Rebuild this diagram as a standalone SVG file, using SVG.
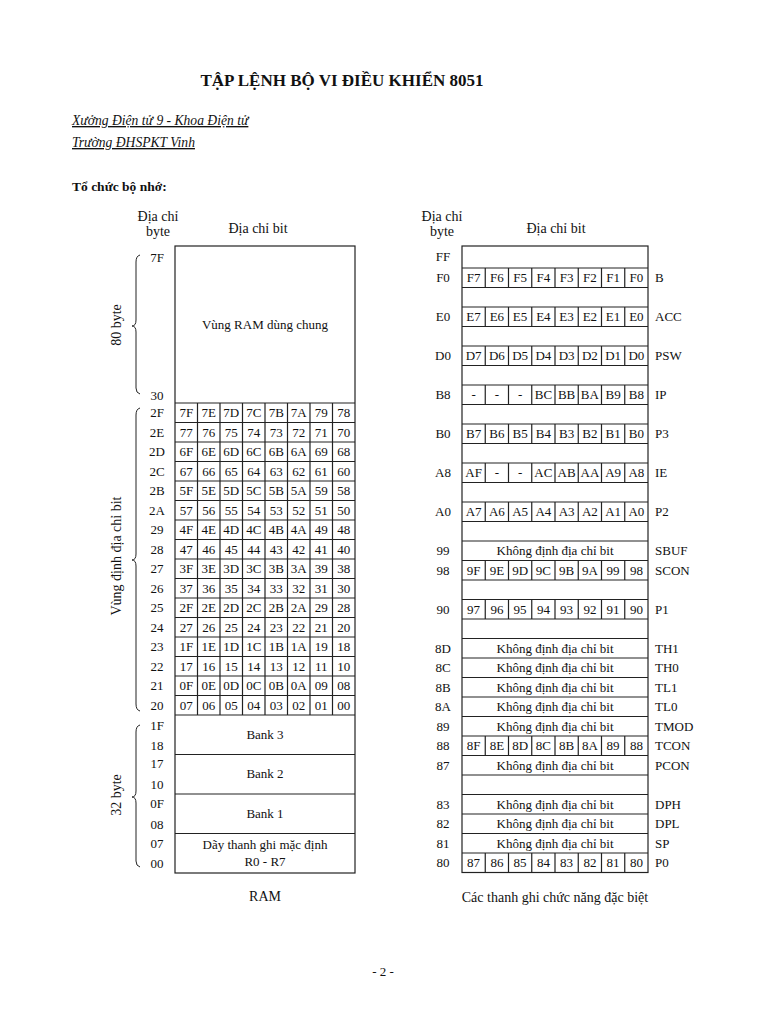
<svg xmlns="http://www.w3.org/2000/svg" width="768" height="1024" viewBox="0 0 768 1024">
<style>
text{font-family:"Liberation Serif","Times New Roman",serif;fill:#111}
.t{font-size:13px}
.c{font-size:13px;text-anchor:middle}
.h{font-size:14px;text-anchor:middle}
.ln{stroke:#222;stroke-width:1.2;fill:none}
.br{stroke:#222;stroke-width:1;fill:none}
</style>
<rect width="768" height="1024" fill="#fff"/>
<g id="header">
<text x="342" y="86" font-size="17" font-weight="bold" text-anchor="middle">TẬP LỆNH BỘ VI ĐIỀU KHIỂN 8051</text>
<text x="72" y="125" font-size="13.6" font-style="italic" text-decoration="underline">Xưởng Điện tử 9 - Khoa Điện tử</text>
<text x="72" y="147" font-size="13.6" font-style="italic" text-decoration="underline">Trường ĐHSPKT Vinh</text>
<text x="72" y="191" font-size="13.5" font-weight="bold">Tổ chức bộ nhớ:</text>
<text x="383" y="976" class="c">- 2 -</text>
</g>
<g id="ram">
<text x="158" y="221" class="h">Địa chỉ</text>
<text x="158" y="236" class="h">byte</text>
<text x="258" y="233" class="h">Địa chỉ bit</text>
<rect x="175" y="246" width="180" height="627" class="ln"/>
<path class="ln" d="M175,403H355 M175,422.5H355 M175,442H355 M175,461.5H355 M175,481H355 M175,500.5H355 M175,520H355 M175,539.5H355 M175,559H355 M175,578.5H355 M175,598H355 M175,617.5H355 M175,637H355 M175,656.5H355 M175,676H355 M175,695.5H355 M175,715H355 M175,754.5H355 M175,794H355 M175,833.5H355 M197.5,403V715 M220,403V715 M242.5,403V715 M265,403V715 M287.5,403V715 M310,403V715 M332.5,403V715"/>
<text x="265" y="329" class="c">Vùng RAM dùng chung</text>
<text x="265" y="739" class="c">Bank 3</text>
<text x="265" y="778" class="c">Bank 2</text>
<text x="265" y="818" class="c">Bank 1</text>
<text x="265" y="849" class="c">Dãy thanh ghi mặc định</text>
<text x="265" y="866" class="c">R0 - R7</text>
<text x="265" y="901" class="h">RAM</text>
<g class="c">
<text x="157" y="262" class="c">7F</text>
<text x="157" y="400" class="c">30</text>
<text x="157" y="417" class="c">2F</text>
<text x="157" y="436.5" class="c">2E</text>
<text x="157" y="456" class="c">2D</text>
<text x="157" y="475.5" class="c">2C</text>
<text x="157" y="495" class="c">2B</text>
<text x="157" y="514.5" class="c">2A</text>
<text x="157" y="534" class="c">29</text>
<text x="157" y="553.5" class="c">28</text>
<text x="157" y="573" class="c">27</text>
<text x="157" y="592.5" class="c">26</text>
<text x="157" y="612" class="c">25</text>
<text x="157" y="631.5" class="c">24</text>
<text x="157" y="651" class="c">23</text>
<text x="157" y="670.5" class="c">22</text>
<text x="157" y="690" class="c">21</text>
<text x="157" y="709.5" class="c">20</text>
<text x="157" y="730" class="c">1F</text>
<text x="157" y="750" class="c">18</text>
<text x="157" y="768" class="c">17</text>
<text x="157" y="789" class="c">10</text>
<text x="157" y="808" class="c">0F</text>
<text x="157" y="829" class="c">08</text>
<text x="157" y="848" class="c">07</text>
<text x="157" y="868" class="c">00</text>
</g>
<g class="cells">
<text y="417" class="c"><tspan x="186.25">7F</tspan><tspan x="208.75">7E</tspan><tspan x="231.25">7D</tspan><tspan x="253.75">7C</tspan><tspan x="276.25">7B</tspan><tspan x="298.75">7A</tspan><tspan x="321.25">79</tspan><tspan x="343.75">78</tspan></text>
<text y="436.5" class="c"><tspan x="186.25">77</tspan><tspan x="208.75">76</tspan><tspan x="231.25">75</tspan><tspan x="253.75">74</tspan><tspan x="276.25">73</tspan><tspan x="298.75">72</tspan><tspan x="321.25">71</tspan><tspan x="343.75">70</tspan></text>
<text y="456" class="c"><tspan x="186.25">6F</tspan><tspan x="208.75">6E</tspan><tspan x="231.25">6D</tspan><tspan x="253.75">6C</tspan><tspan x="276.25">6B</tspan><tspan x="298.75">6A</tspan><tspan x="321.25">69</tspan><tspan x="343.75">68</tspan></text>
<text y="475.5" class="c"><tspan x="186.25">67</tspan><tspan x="208.75">66</tspan><tspan x="231.25">65</tspan><tspan x="253.75">64</tspan><tspan x="276.25">63</tspan><tspan x="298.75">62</tspan><tspan x="321.25">61</tspan><tspan x="343.75">60</tspan></text>
<text y="495" class="c"><tspan x="186.25">5F</tspan><tspan x="208.75">5E</tspan><tspan x="231.25">5D</tspan><tspan x="253.75">5C</tspan><tspan x="276.25">5B</tspan><tspan x="298.75">5A</tspan><tspan x="321.25">59</tspan><tspan x="343.75">58</tspan></text>
<text y="514.5" class="c"><tspan x="186.25">57</tspan><tspan x="208.75">56</tspan><tspan x="231.25">55</tspan><tspan x="253.75">54</tspan><tspan x="276.25">53</tspan><tspan x="298.75">52</tspan><tspan x="321.25">51</tspan><tspan x="343.75">50</tspan></text>
<text y="534" class="c"><tspan x="186.25">4F</tspan><tspan x="208.75">4E</tspan><tspan x="231.25">4D</tspan><tspan x="253.75">4C</tspan><tspan x="276.25">4B</tspan><tspan x="298.75">4A</tspan><tspan x="321.25">49</tspan><tspan x="343.75">48</tspan></text>
<text y="553.5" class="c"><tspan x="186.25">47</tspan><tspan x="208.75">46</tspan><tspan x="231.25">45</tspan><tspan x="253.75">44</tspan><tspan x="276.25">43</tspan><tspan x="298.75">42</tspan><tspan x="321.25">41</tspan><tspan x="343.75">40</tspan></text>
<text y="573" class="c"><tspan x="186.25">3F</tspan><tspan x="208.75">3E</tspan><tspan x="231.25">3D</tspan><tspan x="253.75">3C</tspan><tspan x="276.25">3B</tspan><tspan x="298.75">3A</tspan><tspan x="321.25">39</tspan><tspan x="343.75">38</tspan></text>
<text y="592.5" class="c"><tspan x="186.25">37</tspan><tspan x="208.75">36</tspan><tspan x="231.25">35</tspan><tspan x="253.75">34</tspan><tspan x="276.25">33</tspan><tspan x="298.75">32</tspan><tspan x="321.25">31</tspan><tspan x="343.75">30</tspan></text>
<text y="612" class="c"><tspan x="186.25">2F</tspan><tspan x="208.75">2E</tspan><tspan x="231.25">2D</tspan><tspan x="253.75">2C</tspan><tspan x="276.25">2B</tspan><tspan x="298.75">2A</tspan><tspan x="321.25">29</tspan><tspan x="343.75">28</tspan></text>
<text y="631.5" class="c"><tspan x="186.25">27</tspan><tspan x="208.75">26</tspan><tspan x="231.25">25</tspan><tspan x="253.75">24</tspan><tspan x="276.25">23</tspan><tspan x="298.75">22</tspan><tspan x="321.25">21</tspan><tspan x="343.75">20</tspan></text>
<text y="651" class="c"><tspan x="186.25">1F</tspan><tspan x="208.75">1E</tspan><tspan x="231.25">1D</tspan><tspan x="253.75">1C</tspan><tspan x="276.25">1B</tspan><tspan x="298.75">1A</tspan><tspan x="321.25">19</tspan><tspan x="343.75">18</tspan></text>
<text y="670.5" class="c"><tspan x="186.25">17</tspan><tspan x="208.75">16</tspan><tspan x="231.25">15</tspan><tspan x="253.75">14</tspan><tspan x="276.25">13</tspan><tspan x="298.75">12</tspan><tspan x="321.25">11</tspan><tspan x="343.75">10</tspan></text>
<text y="690" class="c"><tspan x="186.25">0F</tspan><tspan x="208.75">0E</tspan><tspan x="231.25">0D</tspan><tspan x="253.75">0C</tspan><tspan x="276.25">0B</tspan><tspan x="298.75">0A</tspan><tspan x="321.25">09</tspan><tspan x="343.75">08</tspan></text>
<text y="709.5" class="c"><tspan x="186.25">07</tspan><tspan x="208.75">06</tspan><tspan x="231.25">05</tspan><tspan x="253.75">04</tspan><tspan x="276.25">03</tspan><tspan x="298.75">02</tspan><tspan x="321.25">01</tspan><tspan x="343.75">00</tspan></text>
</g>
</g>
<g id="braces">
<path class="br" d="M140,255 Q136,256 136,262 L136,320 Q136,326 132,326 Q136,326 136,332 L136,388 Q136,393 140,394"/>
<path class="br" d="M140,408 Q136,409 136,415 L136,554 Q136,560 132,560 Q136,560 136,566 L136,704 Q136,710 140,711"/>
<path class="br" d="M140,725 Q136,726 136,732 L136,791 Q136,797 132,797 Q136,797 136,803 L136,861 Q136,866 140,867"/>
<text class="h" transform="translate(121,325) rotate(-90)">80 byte</text>
<text class="h" transform="translate(121,556) rotate(-90)">Vùng định địa chỉ bit</text>
<text class="h" transform="translate(121,795) rotate(-90)">32 byte</text>
</g>
<g id="sfr">
<text x="442" y="221" class="h">Địa chỉ</text>
<text x="442" y="236" class="h">byte</text>
<text x="556" y="233" class="h">Địa chỉ bit</text>
<text x="555" y="902" class="h">Các thanh ghi chức năng đặc biệt</text>
<rect x="462" y="246" width="186" height="626.5" class="ln"/>
<path class="ln" d="M462,268H648 M462,287.5H648 M462,307H648 M462,326.5H648 M462,346H648 M462,365.5H648 M462,385H648 M462,404.5H648 M462,424H648 M462,443.5H648 M462,463H648 M462,482.5H648 M462,502H648 M462,521.5H648 M462,541H648 M462,560.5H648 M462,580H648 M462,599.5H648 M462,619H648 M462,638.5H648 M462,658H648 M462,677.5H648 M462,697H648 M462,716.5H648 M462,736H648 M462,755.5H648 M462,775H648 M462,794.5H648 M462,814H648 M462,833.5H648 M462,853H648"/>
<path class="ln" d="M485.25,268v19.5 M508.5,268v19.5 M531.75,268v19.5 M555,268v19.5 M578.25,268v19.5 M601.5,268v19.5 M624.75,268v19.5
M485.25,307v19.5 M508.5,307v19.5 M531.75,307v19.5 M555,307v19.5 M578.25,307v19.5 M601.5,307v19.5 M624.75,307v19.5
M485.25,346v19.5 M508.5,346v19.5 M531.75,346v19.5 M555,346v19.5 M578.25,346v19.5 M601.5,346v19.5 M624.75,346v19.5
M485.25,385v19.5 M508.5,385v19.5 M531.75,385v19.5 M555,385v19.5 M578.25,385v19.5 M601.5,385v19.5 M624.75,385v19.5
M485.25,424v19.5 M508.5,424v19.5 M531.75,424v19.5 M555,424v19.5 M578.25,424v19.5 M601.5,424v19.5 M624.75,424v19.5
M485.25,463v19.5 M508.5,463v19.5 M531.75,463v19.5 M555,463v19.5 M578.25,463v19.5 M601.5,463v19.5 M624.75,463v19.5
M485.25,502v19.5 M508.5,502v19.5 M531.75,502v19.5 M555,502v19.5 M578.25,502v19.5 M601.5,502v19.5 M624.75,502v19.5
M485.25,560.5v19.5 M508.5,560.5v19.5 M531.75,560.5v19.5 M555,560.5v19.5 M578.25,560.5v19.5 M601.5,560.5v19.5 M624.75,560.5v19.5
M485.25,599.5v19.5 M508.5,599.5v19.5 M531.75,599.5v19.5 M555,599.5v19.5 M578.25,599.5v19.5 M601.5,599.5v19.5 M624.75,599.5v19.5
M485.25,736v19.5 M508.5,736v19.5 M531.75,736v19.5 M555,736v19.5 M578.25,736v19.5 M601.5,736v19.5 M624.75,736v19.5
M485.25,853v19.5 M508.5,853v19.5 M531.75,853v19.5 M555,853v19.5 M578.25,853v19.5 M601.5,853v19.5 M624.75,853v19.5"/>
<g>
<text x="443" y="261" class="c">FF</text>
<text x="443" y="282" class="c">F0</text>
<text x="443" y="321" class="c">E0</text>
<text x="443" y="360" class="c">D0</text>
<text x="443" y="399" class="c">B8</text>
<text x="443" y="438" class="c">B0</text>
<text x="443" y="477" class="c">A8</text>
<text x="443" y="516" class="c">A0</text>
<text x="443" y="555" class="c">99</text>
<text x="443" y="574.5" class="c">98</text>
<text x="443" y="613.5" class="c">90</text>
<text x="443" y="652.5" class="c">8D</text>
<text x="443" y="672" class="c">8C</text>
<text x="443" y="691.5" class="c">8B</text>
<text x="443" y="711" class="c">8A</text>
<text x="443" y="730.5" class="c">89</text>
<text x="443" y="750" class="c">88</text>
<text x="443" y="769.5" class="c">87</text>
<text x="443" y="808.5" class="c">83</text>
<text x="443" y="828" class="c">82</text>
<text x="443" y="847.5" class="c">81</text>
<text x="443" y="867" class="c">80</text>
</g>
<g>
<text x="655" y="282" class="t">B</text>
<text x="655" y="321" class="t">ACC</text>
<text x="655" y="360" class="t">PSW</text>
<text x="655" y="399" class="t">IP</text>
<text x="655" y="438" class="t">P3</text>
<text x="655" y="477" class="t">IE</text>
<text x="655" y="516" class="t">P2</text>
<text x="655" y="555" class="t">SBUF</text>
<text x="655" y="574.5" class="t">SCON</text>
<text x="655" y="613.5" class="t">P1</text>
<text x="655" y="652.5" class="t">TH1</text>
<text x="655" y="672" class="t">TH0</text>
<text x="655" y="691.5" class="t">TL1</text>
<text x="655" y="711" class="t">TL0</text>
<text x="655" y="730.5" class="t">TMOD</text>
<text x="655" y="750" class="t">TCON</text>
<text x="655" y="769.5" class="t">PCON</text>
<text x="655" y="808.5" class="t">DPH</text>
<text x="655" y="828" class="t">DPL</text>
<text x="655" y="847.5" class="t">SP</text>
<text x="655" y="867" class="t">P0</text>
</g>
<g>
<text x="555" y="555" class="c">Không định địa chỉ bit</text>
<text x="555" y="652.5" class="c">Không định địa chỉ bit</text>
<text x="555" y="672" class="c">Không định địa chỉ bit</text>
<text x="555" y="691.5" class="c">Không định địa chỉ bit</text>
<text x="555" y="711" class="c">Không định địa chỉ bit</text>
<text x="555" y="730.5" class="c">Không định địa chỉ bit</text>
<text x="555" y="769.5" class="c">Không định địa chỉ bit</text>
<text x="555" y="808.5" class="c">Không định địa chỉ bit</text>
<text x="555" y="828" class="c">Không định địa chỉ bit</text>
<text x="555" y="847.5" class="c">Không định địa chỉ bit</text>
</g>
<g>
<text y="282" class="c"><tspan x="473.6">F7</tspan><tspan x="496.9">F6</tspan><tspan x="520.1">F5</tspan><tspan x="543.4">F4</tspan><tspan x="566.6">F3</tspan><tspan x="589.9">F2</tspan><tspan x="613.1">F1</tspan><tspan x="636.4">F0</tspan></text>
<text y="321" class="c"><tspan x="473.6">E7</tspan><tspan x="496.9">E6</tspan><tspan x="520.1">E5</tspan><tspan x="543.4">E4</tspan><tspan x="566.6">E3</tspan><tspan x="589.9">E2</tspan><tspan x="613.1">E1</tspan><tspan x="636.4">E0</tspan></text>
<text y="360" class="c"><tspan x="473.6">D7</tspan><tspan x="496.9">D6</tspan><tspan x="520.1">D5</tspan><tspan x="543.4">D4</tspan><tspan x="566.6">D3</tspan><tspan x="589.9">D2</tspan><tspan x="613.1">D1</tspan><tspan x="636.4">D0</tspan></text>
<text y="399" class="c"><tspan x="473.6">-</tspan><tspan x="496.9">-</tspan><tspan x="520.1">-</tspan><tspan x="543.4">BC</tspan><tspan x="566.6">BB</tspan><tspan x="589.9">BA</tspan><tspan x="613.1">B9</tspan><tspan x="636.4">B8</tspan></text>
<text y="438" class="c"><tspan x="473.6">B7</tspan><tspan x="496.9">B6</tspan><tspan x="520.1">B5</tspan><tspan x="543.4">B4</tspan><tspan x="566.6">B3</tspan><tspan x="589.9">B2</tspan><tspan x="613.1">B1</tspan><tspan x="636.4">B0</tspan></text>
<text y="477" class="c"><tspan x="473.6">AF</tspan><tspan x="496.9">-</tspan><tspan x="520.1">-</tspan><tspan x="543.4">AC</tspan><tspan x="566.6">AB</tspan><tspan x="589.9">AA</tspan><tspan x="613.1">A9</tspan><tspan x="636.4">A8</tspan></text>
<text y="516" class="c"><tspan x="473.6">A7</tspan><tspan x="496.9">A6</tspan><tspan x="520.1">A5</tspan><tspan x="543.4">A4</tspan><tspan x="566.6">A3</tspan><tspan x="589.9">A2</tspan><tspan x="613.1">A1</tspan><tspan x="636.4">A0</tspan></text>
<text y="574.5" class="c"><tspan x="473.6">9F</tspan><tspan x="496.9">9E</tspan><tspan x="520.1">9D</tspan><tspan x="543.4">9C</tspan><tspan x="566.6">9B</tspan><tspan x="589.9">9A</tspan><tspan x="613.1">99</tspan><tspan x="636.4">98</tspan></text>
<text y="613.5" class="c"><tspan x="473.6">97</tspan><tspan x="496.9">96</tspan><tspan x="520.1">95</tspan><tspan x="543.4">94</tspan><tspan x="566.6">93</tspan><tspan x="589.9">92</tspan><tspan x="613.1">91</tspan><tspan x="636.4">90</tspan></text>
<text y="750" class="c"><tspan x="473.6">8F</tspan><tspan x="496.9">8E</tspan><tspan x="520.1">8D</tspan><tspan x="543.4">8C</tspan><tspan x="566.6">8B</tspan><tspan x="589.9">8A</tspan><tspan x="613.1">89</tspan><tspan x="636.4">88</tspan></text>
<text y="867" class="c"><tspan x="473.6">87</tspan><tspan x="496.9">86</tspan><tspan x="520.1">85</tspan><tspan x="543.4">84</tspan><tspan x="566.6">83</tspan><tspan x="589.9">82</tspan><tspan x="613.1">81</tspan><tspan x="636.4">80</tspan></text>
</g>
</g>
</svg>
